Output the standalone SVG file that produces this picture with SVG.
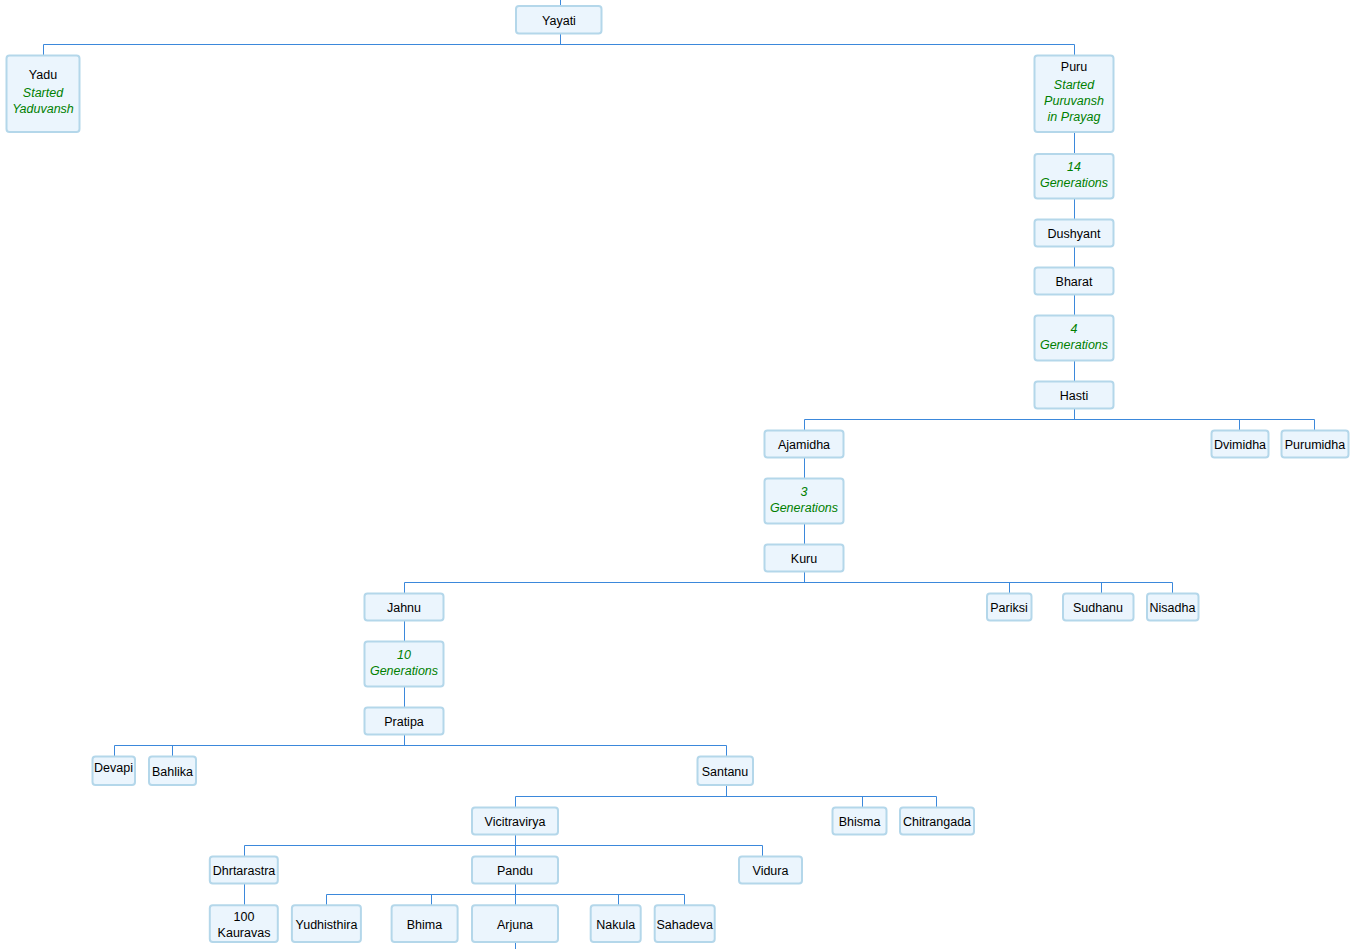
<svg xmlns="http://www.w3.org/2000/svg" width="1357" height="949" viewBox="0 0 1357 949">
<style>
.n rect{fill:#ebf5fd;stroke:#b4d7ea;stroke-width:2}
text{font-family:"Liberation Sans",Arial,sans-serif;font-size:12.5px;fill:#000;text-anchor:middle}
text.g{fill:#008000;font-style:italic}
#connectors path{fill:none;stroke:#3b88db;stroke-width:1}
</style>
<rect width="1357" height="949" fill="#fff"/>
<g id="connectors">
<path d="M560.5 0V5"/>
<path d="M560.5 34V44.5M43.5 44.5H1074.5M43.5 44.5V55M1074.5 44.5V55"/>
<path d="M1074.5 133V154M1074.5 198V219M1074.5 247V267M1074.5 295V315M1074.5 361V381"/>
<path d="M1074.5 409V419.5M804.5 419.5H1314.5M804.5 419.5V430M1239.5 419.5V430M1314.5 419.5V430"/>
<path d="M804.5 458V478M804.5 524V544"/>
<path d="M804.5 572V582.5M404.5 582.5H1172.5M404.5 582.5V593M1009.5 582.5V593M1101.5 582.5V593M1172.5 582.5V593"/>
<path d="M404.5 621V641M404.5 687V707"/>
<path d="M404.5 735V745.5M114.5 745.5H726.5M114.5 745.5V756M172.5 745.5V756M726.5 745.5V756"/>
<path d="M726.5 786V796.5M515.5 796.5H936.5M515.5 796.5V807M862.5 796.5V807M936.5 796.5V807"/>
<path d="M515.5 835V845.5M244.5 845.5H762.5M244.5 845.5V856M515.5 845.5V856M762.5 845.5V856"/>
<path d="M244.5 884V905"/>
<path d="M515.5 884V894.5M326.5 894.5H684.5M326.5 894.5V905M431.5 894.5V905M515.5 894.5V905M618.5 894.5V905M684.5 894.5V905"/>
<path d="M515.5 943V949"/>
</g>
<g id="yayati" class="n"><rect x="516" y="6" width="85.5" height="27.5" rx="3"/><text x="559" y="24.5">Yayati</text></g>
<g id="yadu" class="n"><rect x="6.5" y="55.5" width="73" height="76.5" rx="3"/><text x="43" y="79">Yadu</text><text class="g" x="43" y="97">Started</text><text class="g" x="43" y="113">Yaduvansh</text></g>
<g id="puru" class="n"><rect x="1034.5" y="55.5" width="79" height="76.5" rx="3"/><text x="1074" y="71">Puru</text><text class="g" x="1074" y="89">Started</text><text class="g" x="1074" y="105">Puruvansh</text><text class="g" x="1074" y="121">in Prayag</text></g>
<g id="gen14" class="n"><rect x="1034.5" y="154" width="79" height="44.5" rx="3"/><text class="g" x="1074" y="170.5">14</text><text class="g" x="1074" y="186.5">Generations</text></g>
<g id="dushyant" class="n"><rect x="1034.5" y="219.5" width="79" height="27" rx="3"/><text x="1074" y="237.5">Dushyant</text></g>
<g id="bharat" class="n"><rect x="1034.5" y="267.5" width="79" height="27" rx="3"/><text x="1074" y="285.5">Bharat</text></g>
<g id="gen4" class="n"><rect x="1034.5" y="315.5" width="79" height="45" rx="3"/><text class="g" x="1074" y="332.5">4</text><text class="g" x="1074" y="348.5">Generations</text></g>
<g id="hasti" class="n"><rect x="1034.5" y="381.5" width="79" height="27" rx="3"/><text x="1074" y="399.5">Hasti</text></g>
<g id="ajamidha" class="n"><rect x="764.5" y="430.5" width="79" height="27" rx="3"/><text x="804" y="448.5">Ajamidha</text></g>
<g id="dvimidha" class="n"><rect x="1211.5" y="430.5" width="57" height="27" rx="3"/><text x="1240" y="448.5">Dvimidha</text></g>
<g id="purumidha" class="n"><rect x="1281.5" y="430.5" width="67" height="27" rx="3"/><text x="1315" y="448.5">Purumidha</text></g>
<g id="gen3" class="n"><rect x="764.5" y="478.5" width="79" height="45" rx="3"/><text class="g" x="804" y="495.5">3</text><text class="g" x="804" y="511.5">Generations</text></g>
<g id="kuru" class="n"><rect x="764.5" y="544.5" width="79" height="27" rx="3"/><text x="804" y="562.5">Kuru</text></g>
<g id="jahnu" class="n"><rect x="364.5" y="593.5" width="79" height="27" rx="3"/><text x="404" y="611.5">Jahnu</text></g>
<g id="pariksi" class="n"><rect x="987" y="593.5" width="44.5" height="27" rx="3"/><text x="1009" y="611.5">Pariksi</text></g>
<g id="sudhanu" class="n"><rect x="1063" y="593.5" width="70.5" height="27" rx="3"/><text x="1098" y="611.5">Sudhanu</text></g>
<g id="nisadha" class="n"><rect x="1147" y="593.5" width="51.5" height="27" rx="3"/><text x="1172.5" y="611.5">Nisadha</text></g>
<g id="gen10" class="n"><rect x="364.5" y="641.5" width="79" height="45" rx="3"/><text class="g" x="404" y="658.5">10</text><text class="g" x="404" y="674.5">Generations</text></g>
<g id="pratipa" class="n"><rect x="364.5" y="707.5" width="79" height="27" rx="3"/><text x="404" y="725.5">Pratipa</text></g>
<g id="devapi" class="n"><rect x="92.5" y="756.5" width="42.5" height="28.5" rx="3"/><text x="113.5" y="771.5">Devapi</text></g>
<g id="bahlika" class="n"><rect x="149" y="756.5" width="47" height="28.5" rx="3"/><text x="172.5" y="776">Bahlika</text></g>
<g id="santanu" class="n"><rect x="697.5" y="756.5" width="55.5" height="28.5" rx="3"/><text x="725" y="776">Santanu</text></g>
<g id="vicitravirya" class="n"><rect x="472" y="807.5" width="86" height="27" rx="3"/><text x="515" y="825.5">Vicitravirya</text></g>
<g id="bhisma" class="n"><rect x="832.5" y="807.5" width="54" height="27" rx="3"/><text x="859.5" y="825.5">Bhisma</text></g>
<g id="chitrangada" class="n"><rect x="900" y="807.5" width="74" height="27" rx="3"/><text x="937" y="825.5">Chitrangada</text></g>
<g id="dhrtarastra" class="n"><rect x="209.8" y="856.5" width="68" height="27" rx="3"/><text x="244" y="874.5">Dhrtarastra</text></g>
<g id="pandu" class="n"><rect x="472" y="856.5" width="86" height="27" rx="3"/><text x="515" y="874.5">Pandu</text></g>
<g id="vidura" class="n"><rect x="739" y="856.5" width="63" height="27" rx="3"/><text x="770.5" y="874.5">Vidura</text></g>
<g id="kauravas" class="n"><rect x="209.8" y="905.3" width="68" height="36.7" rx="3"/><text x="244" y="921">100</text><text x="244" y="937">Kauravas</text></g>
<g id="yudhisthira" class="n"><rect x="291.9" y="905.3" width="69" height="36.7" rx="3"/><text x="326.5" y="928.5">Yudhisthira</text></g>
<g id="bhima" class="n"><rect x="391.6" y="905.3" width="66" height="36.7" rx="3"/><text x="424.5" y="928.5">Bhima</text></g>
<g id="arjuna" class="n"><rect x="472" y="905.3" width="86" height="36.7" rx="3"/><text x="515" y="928.5">Arjuna</text></g>
<g id="nakula" class="n"><rect x="590.7" y="905.3" width="50" height="36.7" rx="3"/><text x="615.7" y="928.5">Nakula</text></g>
<g id="sahadeva" class="n"><rect x="654.7" y="905.3" width="60" height="36.7" rx="3"/><text x="684.7" y="928.5">Sahadeva</text></g>
</svg>
